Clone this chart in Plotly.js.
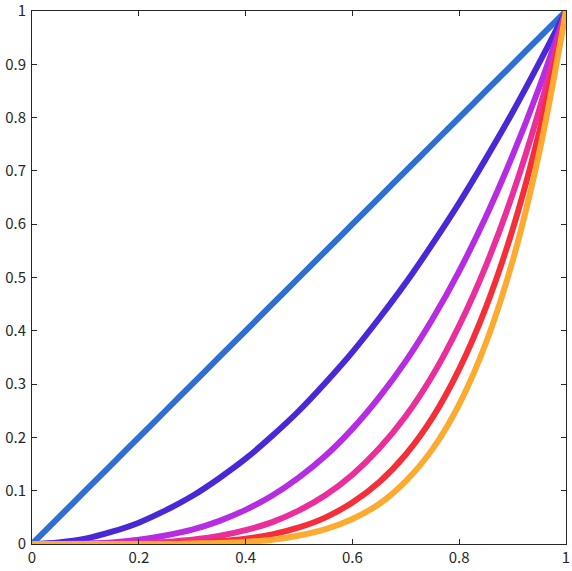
<!DOCTYPE html>
<html>
<head>
<meta charset="utf-8">
<script src="https://cdn.plot.ly/plotly-3.0.1.min.js"></script>
<style>
html, body { margin: 0; padding: 0; background: #fff; }
#plot { width: 572px; height: 571px; }
</style>
</head>
<body>
<div id="plot"></div>
<script>
// x positions read along the horizontal axis
var xs = [0,0.05,0.1,0.15,0.2,0.25,0.3,0.35,0.4,0.45,0.5,0.55,0.6,0.65,0.7,0.75,0.8,0.85,0.9,0.95,1];
// curve values, top curve to bottom curve
var yBlue   = [0,0.05,0.1,0.15,0.2,0.25,0.3,0.35,0.4,0.45,0.5,0.55,0.6,0.65,0.7,0.75,0.8,0.85,0.9,0.95,1];
var yIndigo = [0,0.003,0.01,0.023,0.04,0.063,0.09,0.123,0.16,0.203,0.25,0.303,0.36,0.423,0.49,0.563,0.64,0.723,0.81,0.903,1];
var yPurple = [0,0,0.001,0.003,0.008,0.016,0.027,0.043,0.064,0.091,0.125,0.166,0.216,0.275,0.343,0.422,0.512,0.614,0.729,0.857,1];
var yPink   = [0,0,0,0.001,0.002,0.004,0.008,0.015,0.026,0.041,0.063,0.092,0.13,0.179,0.24,0.316,0.41,0.522,0.656,0.815,1];
var yRed    = [0,0,0,0,0,0.001,0.002,0.005,0.01,0.018,0.031,0.05,0.078,0.116,0.168,0.237,0.328,0.444,0.59,0.774,1];
var yOrange = [0,0,0,0,0,0,0.001,0.002,0.004,0.008,0.016,0.028,0.047,0.075,0.118,0.178,0.262,0.377,0.531,0.735,1];

var series = [yBlue, yIndigo, yPurple, yPink, yRed, yOrange];
var colors = ['#2f6fd2', '#4a28d8', '#b52ce2', '#ea2e9c', '#f42f3a', '#fdab30'];

var traces = series.map(function(ys, i){
return {
x: xs,
y: ys,
mode: 'lines',
line: {color: colors[i], width: 6, shape: 'spline'},
showlegend: false,
hoverinfo: 'none'
};
});

var axisStyle = {
showgrid: false,
zeroline: false,
showline: true,
mirror: 'ticks',
linecolor: '#262626',
linewidth: 1,
ticks: 'inside',
ticklen: 5,
tickcolor: '#262626',
ticklabeloverflow: 'allow',
tickfont: {family: 'Noto Sans CJK JP, Noto Sans, sans-serif', size: 15, color: '#262626'}
};

var layout = {
width: 572,
height: 571,
margin: {l: 32, r: 6, t: 11, b: 27},
paper_bgcolor: '#fff',
plot_bgcolor: '#fff',
xaxis: Object.assign({}, axisStyle, {range: [0, 1], tickvals: [0,0.2,0.4,0.6,0.8,1], ticktext: ['0','0.2','0.4','0.6','0.8','1']}),
yaxis: Object.assign({}, axisStyle, {range: [0, 1], ticklabelstandoff: 2, tickvals: [0,0.1,0.2,0.3,0.4,0.5,0.6,0.7,0.8,0.9,1], ticktext: ['0','0.1','0.2','0.3','0.4','0.5','0.6','0.7','0.8','0.9','1']})
};

Plotly.newPlot('plot', traces, layout, {displayModeBar: false, staticPlot: true});
</script>
</body>
</html>
